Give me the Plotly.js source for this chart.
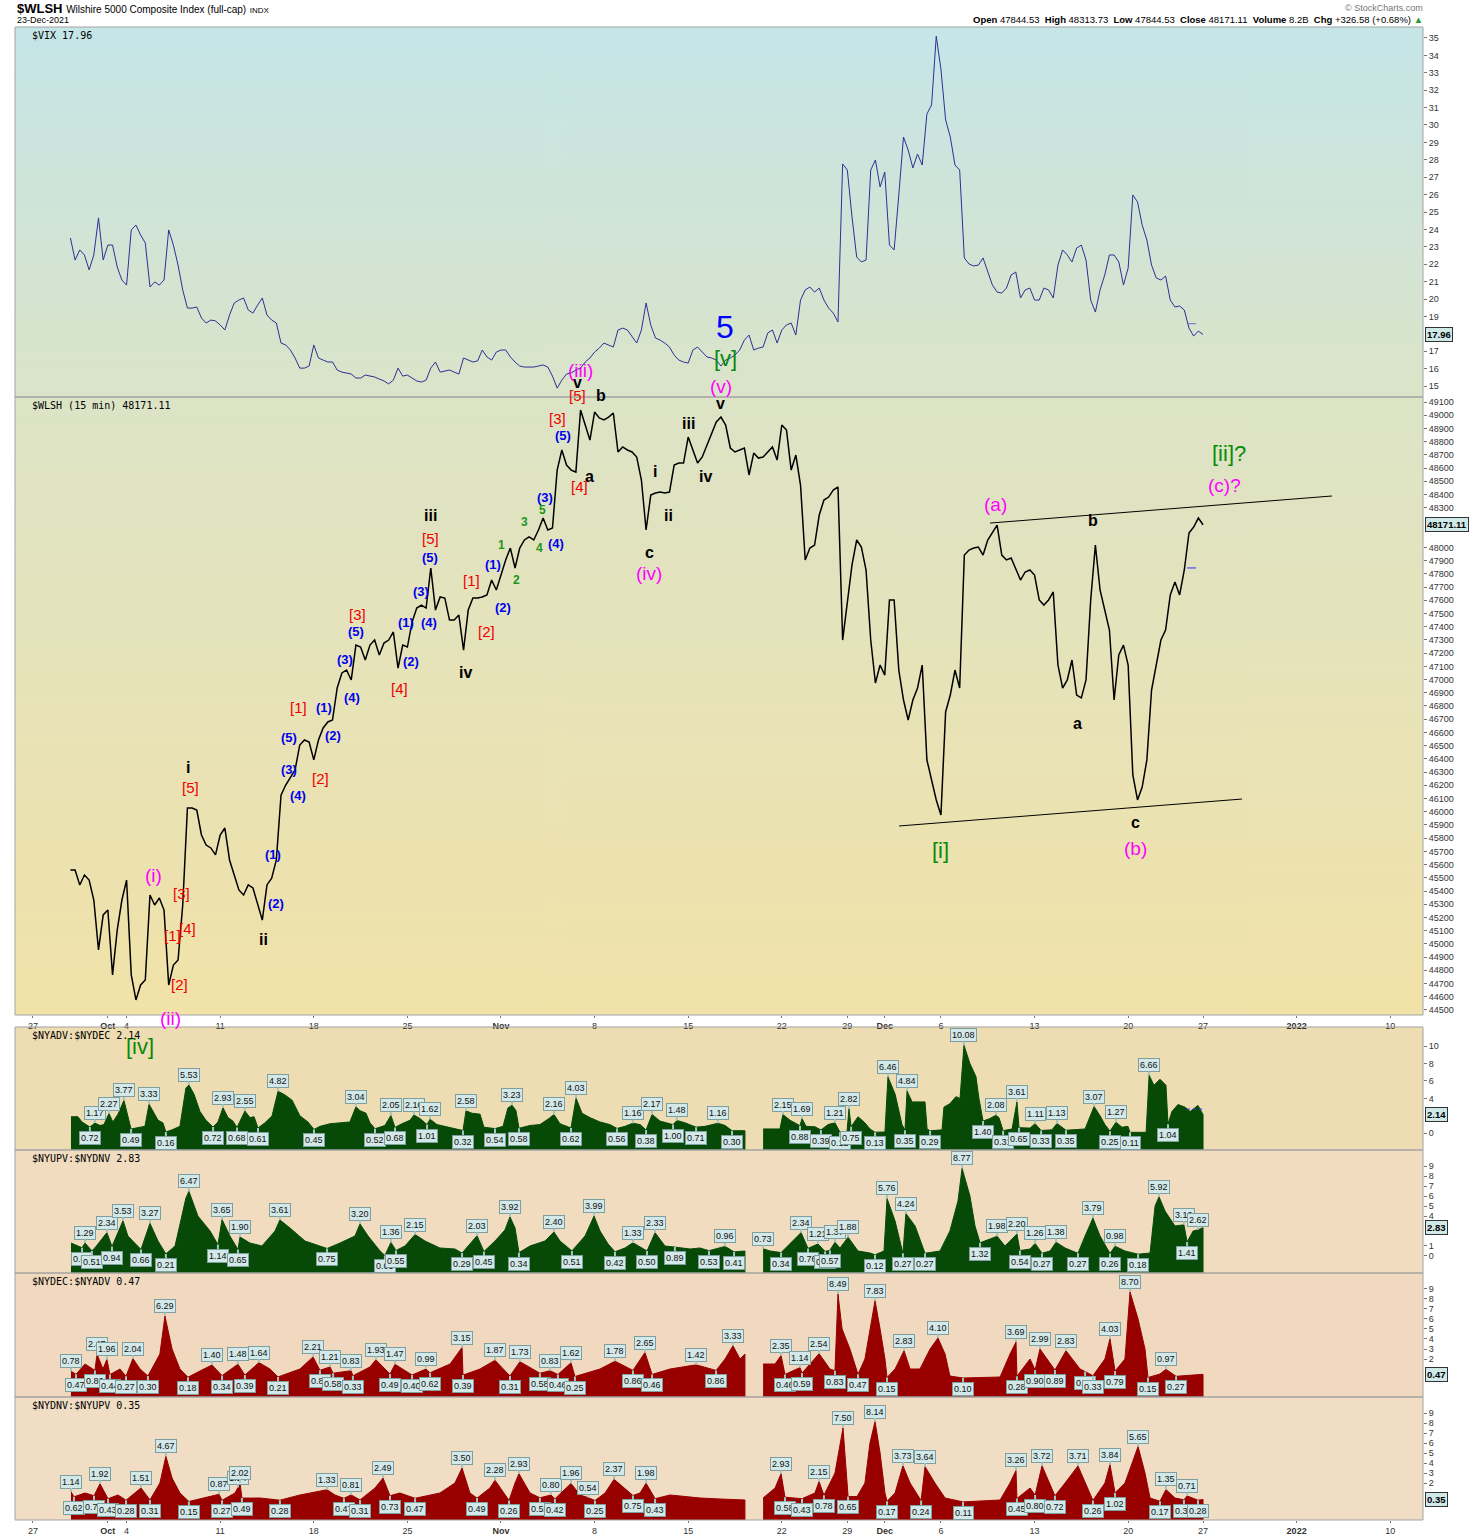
<!DOCTYPE html>
<html>
<head>
<meta charset="utf-8">
<title>$WLSH 15 min with VIX and NYSE breadth ratios</title>
<script src="https://cdn.plot.ly/plotly-3.0.1.min.js"></script>
<style>
html,body{margin:0;padding:0;background:#ffffff;}
#chart{width:1471px;height:1536px;}
</style>
</head>
<body>
<div id="chart"></div>
<script>
// ================= DATA =================
// x unit: trading session counted from Mon 27-Sep-2021 (Fri 26-Nov-2021 is a half session)
const tickDays = [0, 4, 5, 10, 15, 20, 25, 30, 35, 40, 43.5, 45.5, 48.5, 53.5, 58.5, 62.5, 67.5, 72.5];
const tickText = ['27', '<b>Oct</b>', '4', '11', '18', '25', '<b>Nov</b>', '8', '15', '22', '29', '<b>Dec</b>', '6', '13', '20', '27', '<b>2022</b>', '10'];

const seriesStartDay = 2;   // Wed 29-Sep-2021
const seriesStep = 0.25;    // quarter session

const wlshClose = [
  45559,45559,45446,45521,45483,45332,44954,45219,
  45256,44765,45105,45332,45483,44765,44576,44689,
  44727,45370,45294,45347,45256,44689,44840,44878,
  45294,46028,46028,46013,45824,45748,45726,45673,
  45824,45877,45635,45521,45408,45370,45446,45423,
  45294,45180,45446,45498,45635,46126,46202,46255,
  46316,46505,46543,46528,46392,46543,46634,46679,
  46694,46936,47050,47072,46997,47261,47246,47148,
  47261,47299,47186,47276,47299,47360,47087,47261,
  47246,47435,47541,47564,47541,47844,47526,47625,
  47617,47450,47450,47488,47223,47526,47617,47617,
  47625,47640,47753,47678,47791,47905,47995,47844,
  47995,48056,48079,48056,48132,48222,48132,48147,
  48585,48737,48623,48585,48570,49039,48926,48812,
  49024,48979,48964,48986,49017,48722,48760,48737,
  48722,48684,48510,48132,48396,48411,48419,48411,
  48419,48623,48638,48638,48835,48737,48638,48684,
  48775,48873,48949,48986,48926,48752,48722,48737,
  48752,48548,48714,48676,48684,48722,48760,48661,
  48926,48888,48585,48699,48472,47905,47995,48018,
  48245,48358,48381,48434,48457,47299,47602,47867,
  48056,48003,47829,47299,46974,47110,47034,47602,
  47602,47072,46845,46694,46845,46936,47110,46392,
  46240,46089,45975,46755,46883,47072,46936,47942,
  47980,47995,48003,47942,48056,48109,48169,47942,
  47905,47920,47829,47753,47814,47829,47791,47602,
  47564,47602,47663,47110,46936,46997,47148,46883,
  46861,46997,47602,48018,47678,47526,47375,46845,
  47186,47261,47110,46278,46089,46187,46392,46921,
  47110,47299,47375,47640,47738,47640,47829,48109,
  48154,48222,48171.11
];

const vixClose = [
  23.51,22.24,22.82,22.53,21.67,22.53,24.66,22.24,
  23.10,23.10,21.84,21.09,20.80,23.97,24.25,23.68,
  23.22,20.69,20.98,20.80,21.09,23.97,23.10,21.95,
  20.52,19.48,19.48,19.54,18.91,18.62,18.79,18.74,
  18.51,18.22,19.08,19.77,19.94,20.06,19.37,19.19,
  19.65,20.06,19.08,18.79,18.62,17.47,17.36,17.07,
  16.61,16.03,16.03,16.15,17.36,16.61,16.49,16.38,
  16.38,15.92,15.80,15.75,15.69,15.46,15.46,15.63,
  15.57,15.52,15.40,15.29,15.12,15.34,16.03,15.57,
  15.63,15.46,15.29,15.23,15.34,16.03,16.38,15.80,
  15.86,15.92,15.80,15.69,16.61,16.49,16.38,16.44,
  17.07,16.67,16.49,16.95,17.07,17.07,16.67,16.38,
  16.15,16.09,16.09,16.09,16.15,16.21,16.09,15.57,
  14.88,15.34,15.69,15.75,15.92,16.03,16.38,16.61,
  16.95,17.18,17.47,17.36,17.24,18.22,18.33,18.22,
  17.87,17.47,18.22,19.77,18.51,17.76,17.64,17.47,
  17.24,16.78,16.49,16.38,16.32,17.07,17.24,16.95,
  16.67,16.61,16.49,16.15,16.49,16.61,16.78,17.07,
  17.64,17.93,17.07,17.18,17.24,18.05,18.22,17.47,
  18.22,18.51,18.62,17.93,19.94,20.52,20.69,20.40,
  20.63,19.94,19.48,19.19,18.68,27.76,27.41,24.71,
  22.41,22.13,22.24,27.41,27.99,26.44,27.30,23.10,
  22.82,25.98,29.31,28.56,27.53,28.33,27.70,30.63,
  31.15,35.10,33.20,30.29,29.31,27.70,27.41,22.36,
  22.01,21.90,21.95,22.36,21.55,20.80,20.40,20.34,
  20.63,21.38,21.55,20.06,20.52,20.63,19.94,19.94,
  20.63,20.52,20.06,21.95,22.82,22.53,22.13,22.93,
  23.10,22.24,19.94,19.25,20.52,21.38,22.53,22.53,
  22.13,20.80,21.78,25.98,25.58,24.25,23.39,21.95,
  21.21,21.09,21.32,19.94,19.54,19.60,19.37,18.33,
  17.87,18.16,17.96
];

const wlshPrevClose = 47844.53;
const vixPrevClose = 18.58;
const adPrevClose = 2.78;

// $NYADV:$NYDEC
const adDays = [2.03,2.40,2.62,3.04,3.31,3.58,3.79,4.06,4.27,4.54,4.86,5.07,5.24,5.72,5.98,6.20,6.41,6.68,6.94,7.10,7.43,7.85,8.17,8.33,8.60,8.92,9.24,9.62,9.88,10.15,10.42,10.68,10.90,11.16,11.32,11.59,11.81,12.02,12.39,12.77,13.09,13.46,13.84,14.26,14.69,15.01,15.33,15.87,16.40,16.93,17.25,17.47,17.79,18.00,18.27,18.80,19.12,19.34,19.71,20.14,20.35,20.67,21.05,21.21,21.58,22.01,22.54,22.97,23.13,23.45,23.88,24.09,24.68,25.11,25.37,25.59,25.80,25.96,26.55,27.08,27.56,27.83,28.15,28.74,29.01,29.33,29.75,30.29,30.82,31.20,31.62,32.05,32.43,32.75,33.07,33.49,34.19,34.40,34.83,35.42,35.90,36.59,36.97,37.34,38.03,
  null,
  39.00,39.90,40.06,40.44,40.97,41.08,41.29,41.77,42.09,42.47,42.84,43.11,43.48,43.59,43.70,44.07,44.44,44.71,44.98,45.51,45.67,46.05,46.42,46.58,46.69,46.96,47.65,47.76,47.92,48.56,48.66,48.98,49.30,49.52,49.73,50.05,50.37,50.53,50.75,51.12,51.44,51.60,51.82,52.30,52.56,52.67,53.26,53.53,53.85,54.43,54.70,55.18,56.20,56.46,56.68,57.00,57.26,57.53,57.85,58.17,58.49,58.60,59.46,59.62,59.88,60.20,60.52,60.63,60.84,61.16,61.54,61.81,62.23,62.50];
const adVals = [1.9,1.9,1.3,0.72,1.17,0.9,1.0,2.27,1.3,2.2,3.77,2.0,0.49,0.7,0.8,3.33,2.5,1.5,1.2,0.16,0.4,0.8,5.2,5.53,4.5,2.5,1.5,0.72,1.3,2.93,1.8,1.4,0.68,1.9,2.55,1.8,1.9,0.61,1.2,2.0,4.82,4.4,3.8,2.0,1.3,0.45,0.8,1.1,1.2,1.3,3.04,2.6,2.3,1.2,0.52,0.9,2.05,0.68,1.1,1.5,2.10,1.7,1.01,1.62,1.0,0.8,0.5,0.32,2.58,2.3,2.2,0.7,0.54,0.8,2.9,3.23,2.6,0.58,0.9,1.0,1.7,2.16,1.1,0.62,4.03,2.3,1.8,1.3,1.0,0.56,0.8,1.16,1.0,0.38,2.17,1.4,1.00,1.48,1.2,0.71,0.8,1.16,0.9,0.30,0.3,
  null,
  0.5,0.5,2.15,1.5,0.88,1.69,0.8,0.75,0.39,1.0,1.21,0.12,0.15,2.82,0.75,1.9,1.2,0.5,0.13,0.15,6.46,4.5,1.0,0.35,4.84,3.6,3.6,0.5,0.29,0.4,3.0,3.4,4.2,4.0,10.08,8.0,6.5,4.0,1.40,1.7,2.08,1.8,0.31,0.5,3.61,0.65,0.6,1.11,0.33,0.4,1.13,0.35,0.5,1.8,3.07,2.0,1.0,0.25,1.27,0.7,0.8,0.11,0.12,6.66,5.5,6.2,5.5,1.04,2.5,3.3,3.0,2.5,3.2,2.14];
const adPeaks = [[3.31,1.17],[4.06,2.27],[4.86,3.77],[6.20,3.33],[8.33,5.53],[10.15,2.93],[11.32,2.55],[13.09,4.82],[17.25,3.04],[19.12,2.05],[20.35,2.10],[21.21,1.62],[23.13,2.58],[25.59,3.23],[27.83,2.16],[29.01,4.03],[32.05,1.16],[33.07,2.17],[34.40,1.48],[36.59,1.16],[40.06,2.15],[41.08,1.69],[42.84,1.21],[43.59,2.82],[45.67,6.46],[46.69,4.84],[49.73,10.08],[51.44,2.08],[52.56,3.61],[53.53,1.11],[54.70,1.13],[56.68,3.07],[57.85,1.27],[59.62,6.66]];
const adTroughs = [[3.04,0.72],[5.24,0.49],[7.10,0.16],[9.62,0.72],[10.90,0.68],[12.02,0.61],[15.01,0.45],[18.27,0.52],[19.34,0.68],[21.05,1.01],[22.97,0.32],[24.68,0.54],[25.96,0.58],[28.74,0.62],[31.20,0.56],[32.75,0.38],[34.19,1.00],[35.42,0.71],[37.34,0.30],[40.97,0.88],[42.09,0.39],[43.11,0.12],[43.70,0.75],[44.98,0.13],[46.58,0.35],[47.92,0.29],[50.75,1.40],[51.82,0.31],[52.67,0.65],[53.85,0.33],[55.18,0.35],[57.53,0.25],[58.60,0.11],[60.63,1.04]];

// $NYUPV:$NYDNV
const uvDays = [2.03,2.62,2.78,3.15,3.37,3.95,4.22,4.81,5.07,5.77,6.25,6.68,7.10,7.59,8.17,8.33,8.81,9.46,9.88,10.10,10.52,10.95,11.06,11.59,12.23,12.93,13.19,13.73,14.53,15.33,15.71,16.40,17.20,17.47,17.90,18.54,18.80,19.12,19.39,19.87,20.41,20.94,21.74,22.54,22.92,23.72,24.09,24.68,25.21,25.48,25.75,25.96,26.55,27.35,27.83,28.15,28.79,29.49,29.97,30.29,30.72,31.09,31.62,32.05,32.80,33.23,33.76,34.29,35.10,35.63,36.11,36.97,37.45,38.03,
  null,
  39.00,39.37,39.96,40.44,41.03,41.40,41.93,42.31,42.57,42.84,43.11,43.54,44.07,44.71,44.98,45.46,45.62,46.05,46.47,46.63,47.12,47.65,48.45,48.98,49.41,49.63,50.05,50.32,50.59,51.12,51.50,51.92,52.56,52.72,53.26,53.53,53.90,54.33,54.65,55.13,55.82,56.20,56.62,57.00,57.53,57.80,58.33,59.03,59.67,59.94,60.15,60.47,61.00,61.48,61.65,61.97,62.23,62.50];
const uvVals = [1.3,0.83,1.29,0.51,0.96,2.34,0.94,3.53,2.0,0.66,3.27,1.5,0.21,1.0,5.8,6.47,4.0,2.5,1.14,3.65,2.0,0.65,1.90,1.3,1.0,2.5,3.61,2.8,1.5,1.0,0.75,1.3,2.0,3.20,2.0,0.5,0.05,1.36,0.55,1.0,2.15,1.5,0.8,0.7,0.29,2.03,0.45,1.5,2.6,3.92,2.8,0.34,1.0,1.5,2.40,1.5,0.51,2.0,3.99,2.5,1.2,0.42,0.8,1.33,0.50,2.33,1.0,0.89,0.7,0.8,0.53,0.96,0.41,0.5,
  null,
  0.73,0.5,0.34,1.2,2.34,0.76,1.21,0.46,0.57,1.37,0.8,1.88,0.5,0.3,0.12,0.5,5.76,3.5,0.27,4.24,3.0,0.27,0.5,2.5,5.5,8.77,6.0,3.0,1.32,1.7,1.98,1.0,2.20,0.54,0.7,1.26,0.27,0.5,1.38,0.8,0.27,2.0,3.79,2.0,0.26,0.98,0.5,0.18,0.3,5.0,5.92,4.5,3.0,3.12,1.41,2.5,2.62,2.83];
const uvPeaks = [[2.78,1.29],[3.95,2.34],[4.81,3.53],[6.25,3.27],[8.33,6.47],[10.10,3.65],[11.06,1.90],[13.19,3.61],[17.47,3.20],[19.12,1.36],[20.41,2.15],[23.72,2.03],[25.48,3.92],[27.83,2.40],[29.97,3.99],[32.05,1.33],[33.23,2.33],[36.97,0.96],[39.00,0.73],[41.03,2.34],[41.93,1.21],[42.84,1.37],[43.54,1.88],[45.62,5.76],[46.63,4.24],[49.63,8.77],[51.50,1.98],[52.56,2.20],[53.53,1.26],[54.65,1.38],[56.62,3.79],[57.80,0.98],[60.15,5.92],[61.48,3.12],[62.23,2.62]];
const uvTroughs = [[2.62,0.83],[3.15,0.51],[4.22,0.94],[5.77,0.66],[7.10,0.21],[9.88,1.14],[10.95,0.65],[15.71,0.75],[18.80,0.05],[19.39,0.55],[22.92,0.29],[24.09,0.45],[25.96,0.34],[28.79,0.51],[31.09,0.42],[32.80,0.50],[34.29,0.89],[36.11,0.53],[37.45,0.41],[39.96,0.34],[41.40,0.76],[42.31,0.46],[42.57,0.57],[44.98,0.12],[46.47,0.27],[47.65,0.27],[50.59,1.32],[52.72,0.54],[53.90,0.27],[55.82,0.27],[57.53,0.26],[59.03,0.18],[61.65,1.41]];

// $NYDEC:$NYADV
const daDays = [2.03,2.30,2.78,3.31,3.42,3.74,3.95,4.11,4.65,4.97,5.34,5.72,6.14,6.78,7.05,7.43,7.85,8.28,8.92,9.56,10.10,10.95,11.32,12.07,12.66,13.09,14.26,14.96,15.33,15.87,16.03,16.99,17.09,18.00,18.32,19.07,19.34,20.25,20.99,21.21,22.28,22.92,22.97,23.88,24.68,25.48,26.01,27.08,27.62,28.04,28.74,28.95,30.29,31.09,32.05,32.69,33.07,34.03,35.42,36.49,36.97,37.39,37.77,38.03,
  null,
  39.00,39.64,39.96,40.17,40.97,41.08,41.51,41.99,42.57,42.84,43.00,43.22,43.64,44.07,44.44,44.71,44.98,45.25,45.51,45.62,46.05,46.53,46.85,47.38,47.92,48.34,48.72,48.98,49.68,51.66,52.19,52.51,52.56,53.26,53.53,53.79,54.59,55.18,55.93,56.20,56.62,57.26,57.53,57.80,58.33,58.60,59.03,59.40,59.56,60.20,60.52,61.06,61.81,62.50];
const daVals = [0.78,0.47,1.5,0.86,2.47,1.0,1.96,0.44,1.0,0.27,2.04,1.0,0.30,2.5,6.29,3.0,1.0,0.18,0.8,1.40,0.34,1.48,0.39,1.64,1.0,0.21,1.0,2.21,0.87,1.21,0.58,0.83,0.33,1.2,1.93,0.49,1.47,0.40,0.99,0.62,1.5,3.15,0.39,1.0,1.87,0.31,1.73,0.58,0.83,0.46,1.62,0.25,1.0,1.78,0.86,2.65,0.46,1.0,1.42,0.86,2.0,3.33,2.0,2.5,
  null,
  1.5,1.5,2.35,0.46,1.14,0.59,1.5,2.54,1.0,0.83,8.49,5.0,3.0,0.47,2.0,5.0,7.83,5.0,2.0,0.15,1.0,2.83,1.0,1.0,3.0,4.10,2.5,0.3,0.10,0.2,2.5,3.69,0.28,2.0,0.90,2.99,0.89,2.83,1.0,0.75,0.33,2.0,4.03,0.79,2.0,8.70,6.0,3.0,0.15,0.5,0.97,0.27,0.4,0.47];
const daPeaks = [[2.03,0.78],[3.42,2.47],[3.95,1.96],[5.34,2.04],[7.05,6.29],[9.56,1.40],[10.95,1.48],[12.07,1.64],[14.96,2.21],[15.87,1.21],[16.99,0.83],[18.32,1.93],[19.34,1.47],[20.99,0.99],[22.92,3.15],[24.68,1.87],[26.01,1.73],[27.62,0.83],[28.74,1.62],[31.09,1.78],[32.69,2.65],[35.42,1.42],[37.39,3.33],[39.96,2.35],[40.97,1.14],[41.99,2.54],[43.00,8.49],[44.98,7.83],[46.53,2.83],[48.34,4.10],[52.51,3.69],[53.79,2.99],[55.18,2.83],[57.53,4.03],[58.60,8.70],[60.52,0.97]];
const daTroughs = [[2.30,0.47],[3.31,0.86],[4.11,0.44],[4.97,0.27],[6.14,0.30],[8.28,0.18],[10.10,0.34],[11.32,0.39],[13.09,0.21],[15.33,0.87],[16.03,0.58],[17.09,0.33],[19.07,0.49],[20.25,0.40],[21.21,0.62],[22.97,0.39],[25.48,0.31],[27.08,0.58],[28.04,0.46],[28.95,0.25],[32.05,0.86],[33.07,0.46],[36.49,0.86],[40.17,0.46],[41.08,0.59],[42.84,0.83],[44.07,0.47],[45.62,0.15],[49.68,0.10],[52.56,0.28],[53.53,0.90],[54.59,0.89],[56.20,0.75],[56.62,0.33],[57.80,0.79],[59.56,0.15],[61.06,0.27]];

// $NYDNV:$NYUPV
const dvDays = [2.03,2.19,2.78,3.26,3.58,3.85,4.01,4.54,4.97,5.77,6.25,6.78,7.10,7.43,7.85,8.33,9.19,9.94,10.10,10.79,10.95,11.06,11.16,12.13,13.19,14.26,15.71,16.13,16.61,16.99,17.47,18.27,18.70,19.07,19.60,20.41,21.74,22.54,22.92,23.34,23.72,24.41,24.68,25.43,25.75,25.96,26.55,27.08,27.67,27.88,28.74,29.22,29.65,30.02,30.56,31.04,32.05,32.43,32.75,33.23,34.03,35.63,36.70,38.03,
  null,
  39.00,39.64,39.96,40.17,41.08,41.77,41.99,42.25,42.84,43.11,43.27,43.54,44.02,44.44,44.71,44.98,45.25,45.51,45.62,46.05,46.47,46.85,47.44,47.65,48.18,48.72,49.68,51.66,52.19,52.51,52.56,53.26,53.53,53.90,54.59,55.13,55.82,56.62,57.26,57.53,57.80,58.33,59.03,59.40,59.67,60.20,60.52,61.00,61.48,61.65,62.23,62.50];
const dvVals = [1.14,0.62,1.0,0.73,1.92,1.0,0.43,0.8,0.28,1.51,0.31,2.0,4.67,2.5,1.0,0.15,0.5,0.87,0.27,1.0,1.54,2.02,0.49,0.5,0.28,0.8,1.33,0.8,0.47,0.81,0.31,1.5,2.49,0.73,1.0,0.47,1.0,2.0,3.50,1.0,0.49,1.5,2.28,0.26,2.0,2.93,1.0,0.52,0.80,0.42,1.96,0.8,0.54,0.25,1.0,2.37,0.75,1.0,1.98,0.43,0.8,0.5,0.4,0.3,
  null,
  0.5,1.5,2.93,0.58,0.43,1.0,2.15,0.78,3.0,6.0,7.50,0.65,0.65,2.0,6.0,8.14,5.0,1.0,0.17,1.0,3.73,2.0,0.24,3.64,2.0,0.5,0.11,0.3,2.0,3.26,0.45,1.5,0.80,3.72,0.72,2.0,3.71,0.26,2.0,3.84,1.02,2.0,5.65,3.0,0.5,0.17,1.35,0.5,0.32,0.71,0.28,0.35];
const dvPeaks = [[2.03,1.14],[3.58,1.92],[5.77,1.51],[7.10,4.67],[9.94,0.87],[10.95,1.54],[11.06,2.02],[15.71,1.33],[16.99,0.81],[18.70,2.49],[22.92,3.50],[24.68,2.28],[25.96,2.93],[27.67,0.80],[28.74,1.96],[29.65,0.54],[31.04,2.37],[32.75,1.98],[39.96,2.93],[41.99,2.15],[43.27,7.50],[44.98,8.14],[46.47,3.73],[47.65,3.64],[52.51,3.26],[53.90,3.72],[55.82,3.71],[57.53,3.84],[59.03,5.65],[60.52,1.35],[61.65,0.71]];
const dvTroughs = [[2.19,0.62],[3.26,0.73],[4.01,0.43],[4.97,0.28],[6.25,0.31],[8.33,0.15],[10.10,0.27],[11.16,0.49],[13.19,0.28],[16.61,0.47],[17.47,0.31],[19.07,0.73],[20.41,0.47],[23.72,0.49],[25.43,0.26],[27.08,0.52],[27.88,0.42],[30.02,0.25],[32.05,0.75],[33.23,0.43],[40.17,0.58],[41.08,0.43],[42.25,0.78],[43.54,0.65],[45.62,0.17],[47.44,0.24],[49.68,0.11],[52.56,0.45],[53.53,0.80],[54.59,0.72],[56.62,0.26],[57.80,1.02],[60.20,0.17],[61.48,0.32],[62.23,0.28]];

// Elliott-wave labels on the price panel: [text, session, price level, style]
const waveLabels = [
  ['(i)',6.46,45514,'mag'],['i',8.28,46331,'blk'],['[5]',8.44,46180,'red'],['[3]',7.91,45385,'red'],
  ['[1]',7.43,45067,'red'],['[4]',8.28,45113,'red'],['[2]',7.80,44689,'red'],['(ii)',7.32,44439,'mag'],
  ['ii',12.29,45030,'blk'],['(1)',12.82,45680,'blu'],['(2)',12.98,45309,'blu'],['(3)',13.68,46323,'blu'],
  ['(4)',14.16,46119,'blu'],['(5)',13.68,46558,'blu'],['[1]',14.16,46792,'red'],['[2]',15.38,46255,'red'],
  ['(1)',15.54,46792,'blu'],['(2)',16.03,46580,'blu'],['(3)',16.67,47155,'blu'],['(4)',17.04,46868,'blu'],
  ['(5)',17.25,47367,'blu'],['[3]',17.31,47496,'red'],['[4]',19.60,46936,'red'],['(1)',19.93,47428,'blu'],
  ['(2)',20.19,47140,'blu'],['(3)',20.73,47670,'blu'],['(4)',21.15,47435,'blu'],['(5)',21.21,47927,'blu'],
  ['[5]',21.21,48071,'red'],['iii',21.21,48245,'blk'],['iv',23.13,47050,'blk'],['[1]',23.40,47746,'red'],
  ['[2]',24.20,47360,'red'],['(1)',24.57,47867,'blu'],['(2)',25.11,47549,'blu'],['1',25.05,48018,'grn'],
  ['2',25.85,47753,'grn'],['3',26.28,48192,'grn'],['4',27.08,47995,'grn'],['5',27.24,48283,'grn'],
  ['(3)',27.35,48374,'blu'],['(4)',27.94,48033,'blu'],['(5)',28.31,48850,'blu'],['[3]',28.04,48979,'red'],
  ['[4]',29.17,48464,'red'],['a',29.75,48540,'blk'],['[5]',29.11,49153,'red'],['v',29.11,49251,'blk'],
  ['(iii)',29.22,49335,'mag'],['b',30.34,49153,'blk'],['c',32.91,47958,'blk'],['(iv)',32.91,47806,'mag'],
  ['i',33.23,48578,'blk'],['ii',33.97,48245,'blk'],['iii',35.04,48941,'blk'],['iv',35.90,48533,'blk'],
  ['v',36.75,49092,'blk'],['(v)',36.75,49214,'mag'],['[v]',36.97,49433,'grnL'],['5',36.97,49667,'bluL'],
  ['(a)',51.44,48328,'mag'],['b',56.62,48207,'blk'],['a',55.82,46671,'blk'],['c',58.87,45915,'blk'],
  ['(b)',58.87,45718,'mag'],['[i]',48.45,45703,'grnL'],['[ii]?',63.89,48707,'grnL'],['(c)?',63.62,48472,'mag']
];
const breadthWaveLabels = [['[iv]',5.72,9.89,'grnL']];

// trend lines drawn on the price panel: [session0, price0, session1, price1]
const trendLines = [[51.12,48184,69.39,48389],[46.26,45892,64.58,46096]];

// ================= LAYOUT CONSTANTS =================
const XR = [-0.96, 74.25];
const DOM = {vix:[0.75218,1], px:[0.33825,0.75218], p1:[0.24782,0.33021], p2:[0.16544,0.24782], p3:[0.08238,0.16544], p4:[0,0.08238]};
const RNG = {vix:[14.37,35.63], px:[44462,49138], p1:[-1.91,12.18], p2:[-1.7,10.6], p3:[-1.8,10.6], p4:[-1.7,10.6]};
const FONT = 'Liberation Sans, Arial, Helvetica, sans-serif';
const MONO = 'DejaVu Sans Mono, Liberation Mono, monospace';

function toPaper(key, v){
  const d = DOM[key], r = RNG[key];
  return d[0] + (v - r[0]) / (r[1] - r[0]) * (d[1] - d[0]);
}

function gradImg(stops){
  const c = document.createElement('canvas');
  c.width = 4; c.height = 256;
  const g = c.getContext('2d');
  const lg = g.createLinearGradient(0, 0, 0, 256);
  stops.forEach(s => lg.addColorStop(s[0], s[1]));
  g.fillStyle = lg; g.fillRect(0, 0, 4, 256);
  return c.toDataURL('image/png');
}
function bgImage(key, stops){
  const d = DOM[key];
  return {source: gradImg(stops), xref:'paper', yref:'paper', x:0, y:d[1], sizex:1, sizey:d[1]-d[0],
          sizing:'stretch', xanchor:'left', yanchor:'top', layer:'below'};
}

// ================= TRACES =================
const seriesX = wlshClose.map((_, i) => seriesStartDay + i * seriesStep);
const lastDay = seriesX[seriesX.length - 1];

const traces = [];
traces.push({x: seriesX, y: vixClose, xaxis:'x', yaxis:'y', type:'scatter', mode:'lines',
             line:{color:'#2f2f95', width:1}, hoverinfo:'skip'});
traces.push({x:[lastDay-0.85, lastDay], y:[vixPrevClose, vixPrevClose], xaxis:'x', yaxis:'y', mode:'lines',
             line:{color:'#6a6ad0', width:1, dash:'dash'}, hoverinfo:'skip'});
traces.push({x: seriesX, y: wlshClose, xaxis:'x', yaxis:'y2', type:'scatter', mode:'lines',
             line:{color:'#000000', width:1.5}, hoverinfo:'skip'});
traces.push({x:[lastDay-0.85, lastDay], y:[wlshPrevClose, wlshPrevClose], xaxis:'x', yaxis:'y2', mode:'lines',
             line:{color:'#3030ff', width:1, dash:'dash'}, hoverinfo:'skip'});

function areaTraces(days, vals, yax, color, bottom){
  const out = []; let sx = [], sy = [];
  const flush = () => {
    if (sx.length) {
      out.push({x:[...sx, sx[sx.length-1], sx[0]], y:[...sy, bottom, bottom], xaxis:'x2', yaxis:yax,
                type:'scatter', mode:'lines', fill:'toself', fillcolor:color,
                line:{color:color, width:1}, hoverinfo:'skip'});
    }
    sx = []; sy = [];
  };
  days.forEach((d, i) => { if (d === null || vals[i] === null) flush(); else { sx.push(d); sy.push(vals[i]); } });
  flush();
  return out;
}
traces.push(...areaTraces(adDays, adVals, 'y3', '#074a07', RNG.p1[0]));
traces.push(...areaTraces(uvDays, uvVals, 'y4', '#074a07', RNG.p2[0]));
traces.push(...areaTraces(daDays, daVals, 'y5', '#980000', RNG.p3[0]));
traces.push(...areaTraces(dvDays, dvVals, 'y6', '#980000', RNG.p4[0]));
traces.push({x:[lastDay-0.85, lastDay], y:[adPrevClose, adPrevClose], xaxis:'x2', yaxis:'y3', mode:'lines',
             line:{color:'#3030ff', width:1, dash:'dot'}, hoverinfo:'skip'});

// ================= ANNOTATIONS =================
const ann = [];
const waveStyle = {
  blk: {size:16, color:'#000000', bold:true},
  red: {size:15, color:'#ee0000', bold:false},
  blu: {size:13, color:'#0000ee', bold:true},
  grn: {size:12, color:'#1c951c', bold:true},
  mag: {size:19, color:'#ff00ff', bold:false},
  grnL:{size:22, color:'#0a8a0a', bold:false},
  bluL:{size:32, color:'#0000ff', bold:false}
};
function waveAnn(text, day, yPaper, styleKey){
  const s = waveStyle[styleKey];
  return {x:day, xref:'x', y:yPaper, yref:'paper', text: s.bold ? '<b>'+text+'</b>' : text,
          showarrow:false, xanchor:'center', yanchor:'middle',
          font:{family:FONT, size:s.size, color:s.color}};
}
waveLabels.forEach(w => ann.push(waveAnn(w[0], w[1], toPaper('px', w[2]), w[3])));
breadthWaveLabels.forEach(w => ann.push(waveAnn(w[0], w[1], toPaper('p1', w[2]), w[3])));

function boxLabels(list, yref, up){
  return list.map(p => ({x:p[0], y:p[1], xref:'x2', yref:yref, text:p[1].toFixed(2),
    showarrow:true, arrowhead:0, arrowwidth:2, arrowcolor:'#a6c4c4', standoff:0,
    ax:0, ay: up ? -10 : 11,
    font:{family:FONT, size:9, color:'#111111'},
    bgcolor:'#d3e8e8', bordercolor:'#7f9f9f', borderwidth:1, borderpad:1}));
}
ann.push(...boxLabels(adPeaks, 'y3', true), ...boxLabels(adTroughs, 'y3', false));
ann.push(...boxLabels(uvPeaks, 'y4', true), ...boxLabels(uvTroughs, 'y4', false));
ann.push(...boxLabels(daPeaks, 'y5', true), ...boxLabels(daTroughs, 'y5', false));
ann.push(...boxLabels(dvPeaks, 'y6', true), ...boxLabels(dvTroughs, 'y6', false));

// last-value boxes on right axes
const lastVix = vixClose[vixClose.length-1];
const lastPx = wlshClose[wlshClose.length-1];
const lastAd = adVals[adVals.length-1], lastUv = uvVals[uvVals.length-1];
const lastDa = daVals[daVals.length-1], lastDv = dvVals[dvVals.length-1];
[[lastVix,'y'],[lastPx,'y2'],[lastAd,'y3'],[lastUv,'y4'],[lastDa,'y5'],[lastDv,'y6']].forEach(l =>
  ann.push({x:1.0015, xref:'paper', y:l[0], yref:l[1], text:'<b>'+l[0].toFixed(2)+'</b>',
    showarrow:false, xanchor:'left', yanchor:'middle', font:{family:FONT, size:9.5, color:'#000'},
    bgcolor:'#cfe8e8', bordercolor:'#333', borderwidth:1, borderpad:1}));

// panel titles (top-left)
const panelTitles = [
  ['vix', '$VIX ' + lastVix.toFixed(2)],
  ['px', '$WLSH (15 min) ' + lastPx.toFixed(2)],
  ['p1', '$NYADV:$NYDEC ' + lastAd.toFixed(2)],
  ['p2', '$NYUPV:$NYDNV ' + lastUv.toFixed(2)],
  ['p3', '$NYDEC:$NYADV ' + lastDa.toFixed(2)],
  ['p4', '$NYDNV:$NYUPV ' + lastDv.toFixed(2)]
];
panelTitles.forEach(t => ann.push({x:0.0107, xref:'paper', y:DOM[t[0]][1] - 0.0005, yref:'paper', text:t[1],
  showarrow:false, xanchor:'left', yanchor:'top', font:{family:MONO, size:10, color:'#000'}}));

// header
ann.push({x:0, xref:'paper', y:1.0127, yref:'paper', xanchor:'left', yanchor:'middle', showarrow:false,
  text:'<b>$WLSH</b> <span style="font-size:10px">Wilshire 5000 Composite Index (full-cap)</span> <span style="font-size:8px">INDX</span>',
  font:{family:FONT, size:13, color:'#000'}});
ann.push({x:0, xref:'paper', y:1.0050, yref:'paper', xanchor:'left', yanchor:'middle', showarrow:false,
  text:'23-Dec-2021', font:{family:FONT, size:9, color:'#000'}});
ann.push({x:1.0014, xref:'paper', y:1.0130, yref:'paper', xanchor:'right', yanchor:'middle', showarrow:false,
  text:'© StockCharts.com', font:{family:FONT, size:9, color:'#777'}});
ann.push({x:1.0014, xref:'paper', y:1.0048, yref:'paper', xanchor:'right', yanchor:'middle', showarrow:false,
  text:'<b>Open</b> 47844.53  <b>High</b> 48313.73  <b>Low</b> 47844.53  <b>Close</b> 48171.11  <b>Volume</b> 8.2B  <b>Chg</b> +326.58 (+0.68%) <span style="color:#2a9a2a">▲</span>',
  font:{family:FONT, size:9.5, color:'#000'}});

// ================= SHAPES =================
const shapes = [];
Object.keys(DOM).forEach(k => shapes.push({type:'rect', xref:'paper', yref:'paper', x0:0, x1:1, y0:DOM[k][0], y1:DOM[k][1],
  line:{color:'#a3a3a3', width:1}, fillcolor:'rgba(0,0,0,0)', layer:'above'}));
trendLines.forEach(t => shapes.push({type:'line', xref:'x', yref:'y2', x0:t[0], y0:t[1], x1:t[2], y1:t[3],
  line:{color:'#000', width:1}}));

// ================= AXES =================
const priceTicks = []; for (let p = 44500; p <= 49100; p += 100) priceTicks.push(p);
const vixTicks = []; for (let v = 15; v <= 35; v++) vixTicks.push(v);
// tick labels hidden behind the last-value box are left out
function ticksAround(ticks, last, gap){ return ticks.filter(t => Math.abs(t - last) >= gap); }
function yAxis(key, anchor, tickvals){
  return {domain:DOM[key], range:RNG[key], side:'right', anchor:anchor, tickvals:tickvals, tickformat:'d',
    ticks:'outside', ticklen:3, tickcolor:'#777', showgrid:false, zeroline:false, showline:false,
    tickfont:{family:FONT, size:9, color:'#333'}, fixedrange:true};
}
function xAxis(anchor){
  return {domain:[0,1], range:XR, anchor:anchor, tickvals:tickDays, ticktext:tickText,
    ticks:'outside', ticklen:2, tickcolor:'#777', showgrid:false, zeroline:false, showline:false,
    tickfont:{family:FONT, size:9, color:'#333'}, fixedrange:true};
}
const unitTicks = [0,1,2,3,4,5,6,7,8,9];

const layout = {
  width:1471, height:1536,
  margin:{l:15, r:48, t:27, b:16},
  paper_bgcolor:'#ffffff', plot_bgcolor:'rgba(0,0,0,0)',
  showlegend:false,
  font:{family:FONT, size:9, color:'#222'},
  xaxis: xAxis('y2'),
  xaxis2: xAxis('y6'),
  yaxis: yAxis('vix', 'x', ticksAround(vixTicks, lastVix, 0.66)),
  yaxis2: yAxis('px', 'x', ticksAround(priceTicks, lastPx, 87)),
  yaxis3: yAxis('p1', 'x2', ticksAround([0,2,4,6,8,10], lastAd, 1.32)),
  yaxis4: yAxis('p2', 'x2', ticksAround(unitTicks, lastUv, 1.15)),
  yaxis5: yAxis('p3', 'x2', ticksAround(unitTicks, lastDa, 1.15)),
  yaxis6: yAxis('p4', 'x2', ticksAround(unitTicks, lastDv, 1.15)),
  images: [
    bgImage('vix', [[0,'#c5e5e8'],[1,'#dbe4c8']]),
    bgImage('px',  [[0,'#dce4c6'],[0.5,'#e8e3b8'],[1,'#f1e2a8']]),
    bgImage('p1',  [[0,'#eedcb2'],[1,'#eedcb2']]),
    bgImage('p2',  [[0,'#f1dcc0'],[1,'#f1dcc0']]),
    bgImage('p3',  [[0,'#f0d9be'],[1,'#f0d9be']]),
    bgImage('p4',  [[0,'#f1dcc4'],[1,'#f1dcc4']])
  ],
  annotations: ann,
  shapes: shapes
};

Plotly.newPlot('chart', traces, layout, {displayModeBar:false, responsive:false});
</script>
</body>
</html>
